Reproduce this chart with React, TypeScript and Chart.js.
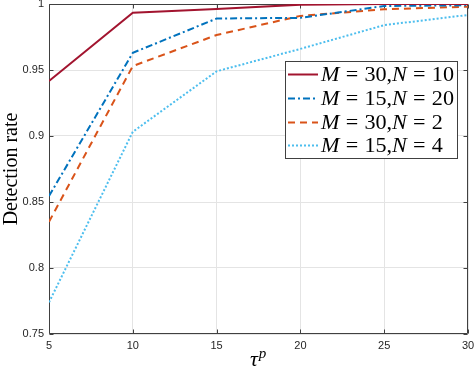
import React, { useEffect, useRef } from "react";
import { Chart, registerables } from "chart.js";

Chart.register(...registerables);

// ---- data ----
const tauValues = [5, 10, 15, 20, 25, 30];
const rateM30N10 = [0.9417, 0.9934, 0.9962, 0.9995, 1.0, 1.0];
const rateM15N20 = [0.8545, 0.963, 0.989, 0.9895, 0.9985, 0.999];
const rateM30N2 = [0.835, 0.953, 0.9765, 0.991, 0.996, 0.998];
const rateM15N4 = [0.774, 0.9032, 0.949, 0.966, 0.984, 0.9917];
const seriesLabels = ["M = 30,N = 10", "M = 15,N = 20", "M = 30,N = 2", "M = 15,N = 4"];
const xTickValues = [5, 10, 15, 20, 25, 30];
const yTickValues = [0.75, 0.8, 0.85, 0.9, 0.95, 1];
const yAxisTitle = "Detection rate";
const xAxisTitle = "τ";
const xAxisSuperscript = "p";

const AXIS_COLOR = "#404040";
const TICK_FONT = "11px 'Liberation Sans', Arial, sans-serif";
const SERIF = "'Liberation Serif', 'Times New Roman', serif";

const tokenize = (label: string) => label.match(/[A-Za-z]|=|[^A-Za-z=\s]+/g) || [];

const mathWidth = (ctx: CanvasRenderingContext2D, label: string, size: number) => {
  const gap = size * 0.28;
  let w = 0;
  for (const t of tokenize(label)) {
    if (t === "=") {
      ctx.font = `${size}px ${SERIF}`;
      w += gap * 2 + ctx.measureText(t).width;
    } else if (/^[A-Za-z]$/.test(t)) {
      ctx.font = `italic ${size}px ${SERIF}`;
      w += ctx.measureText(t).width;
    } else {
      ctx.font = `${size}px ${SERIF}`;
      w += ctx.measureText(t).width;
    }
  }
  return w;
};

const drawMath = (ctx: CanvasRenderingContext2D, label: string, x: number, y: number, size: number, sx: number) => {
  const gap = size * 0.28;
  ctx.save();
  ctx.translate(x, y);
  ctx.scale(sx, 1);
  ctx.fillStyle = "#000";
  ctx.textBaseline = "alphabetic";
  ctx.textAlign = "left";
  let cx = 0;
  for (const t of tokenize(label)) {
    if (t === "=") {
      ctx.font = `${size}px ${SERIF}`;
      cx += gap;
      ctx.fillText(t, cx, 0);
      cx += ctx.measureText(t).width + gap;
    } else if (/^[A-Za-z]$/.test(t)) {
      ctx.font = `italic ${size}px ${SERIF}`;
      ctx.fillText(t, cx, 0);
      cx += ctx.measureText(t).width;
    } else {
      ctx.font = `${size}px ${SERIF}`;
      ctx.fillText(t, cx, 0);
      cx += ctx.measureText(t).width;
    }
  }
  ctx.restore();
};

const framePlugin = {
  id: "matlabFrame",
  beforeDatasetsDraw(chart: any) {
    const { ctx, chartArea: a, scales } = chart;
    ctx.save();
    ctx.strokeStyle = AXIS_COLOR;
    ctx.lineWidth = 1;
    ctx.beginPath();
    const L = Math.round(a.left) + 0.5;
    const R = Math.round(a.right) - 0.5;
    const T = Math.round(a.top) + 0.5;
    const B = Math.round(a.bottom) - 0.5;
    ctx.rect(L, T, R - L, B - T);
    const tl = 4;
    for (const v of xTickValues) {
      const px = Math.round(scales.x.getPixelForValue(v)) + 0.5;
      ctx.moveTo(px, B);
      ctx.lineTo(px, B - tl);
      ctx.moveTo(px, T);
      ctx.lineTo(px, T + tl);
    }
    for (const v of yTickValues) {
      const py = Math.round(scales.y.getPixelForValue(v)) + 0.5;
      ctx.moveTo(L, py);
      ctx.lineTo(L + tl, py);
      ctx.moveTo(R, py);
      ctx.lineTo(R - tl, py);
    }
    ctx.stroke();
    ctx.restore();
  },
  afterDraw(chart: any) {
    const { ctx } = chart;
    ctx.save();
    // y axis title
    ctx.translate(12, 169);
    ctx.rotate(-Math.PI / 2);
    ctx.font = `20px ${SERIF}`;
    ctx.fillStyle = "#000";
    ctx.textAlign = "center";
    ctx.textBaseline = "middle";
    ctx.fillText(yAxisTitle, 0, 0);
    ctx.restore();

    // x axis title with superscript
    ctx.save();
    ctx.fillStyle = "#000";
    ctx.textAlign = "left";
    ctx.textBaseline = "alphabetic";
    ctx.font = `italic 22px ${SERIF}`;
    ctx.fillText(xAxisTitle, 250, 366);
    const tw = ctx.measureText(xAxisTitle).width;
    ctx.font = `italic 15px ${SERIF}`;
    ctx.fillText(xAxisSuperscript, 250 + tw + 1, 358);
    ctx.restore();

    // legend
    const box = { x: 285, y: 61, w: 173, h: 98 };
    ctx.save();
    ctx.fillStyle = "#fff";
    ctx.fillRect(box.x, box.y, box.w, box.h);
    ctx.strokeStyle = AXIS_COLOR;
    ctx.lineWidth = 1;
    ctx.strokeRect(box.x + 0.5, box.y + 0.5, box.w - 1, box.h - 1);
    const size = 20;
    const sx = 133 / mathWidth(ctx, chart.data.datasets[0].label, size);
    const baselines = [81, 105, 129, 152];
    chart.data.datasets.forEach((ds: any, i: number) => {
      const yb = baselines[i];
      const ym = yb - 6.5;
      ctx.save();
      ctx.strokeStyle = ds.borderColor;
      ctx.lineWidth = ds.borderWidth;
      ctx.setLineDash(ds.borderDash || []);
      ctx.beginPath();
      ctx.moveTo(288, ym);
      ctx.lineTo(318, ym);
      ctx.stroke();
      ctx.restore();
      drawMath(ctx, ds.label, 321, yb, size, sx);
    });
    ctx.restore();
  },
};

export default function App() {
  const canvasRef = useRef<HTMLCanvasElement | null>(null);

  useEffect(() => {
    if (!canvasRef.current) return;
    const fixY = (s: any) => {
      s.width = 49;
      s.paddingTop = 0;
      s.paddingBottom = 0;
      s.paddingLeft = 0;
      s.paddingRight = 0;
    };
    const fixX = (s: any) => {
      s.height = 35;
      s.paddingTop = 0;
      s.paddingBottom = 0;
      s.paddingLeft = 0;
      s.paddingRight = 0;
    };
    const chart = new Chart(canvasRef.current, {
      type: "line",
      data: {
        labels: tauValues,
        datasets: [
          {
            label: seriesLabels[0],
            data: tauValues.map((x, i) => ({ x, y: rateM30N10[i] })),
            borderColor: "#A2142F",
            borderWidth: 2,
            borderDash: [],
          },
          {
            label: seriesLabels[1],
            data: tauValues.map((x, i) => ({ x, y: rateM15N20[i] })),
            borderColor: "#0072BD",
            borderWidth: 2,
            borderDash: [7, 3, 2, 3],
          },
          {
            label: seriesLabels[2],
            data: tauValues.map((x, i) => ({ x, y: rateM30N2[i] })),
            borderColor: "#D95319",
            borderWidth: 2,
            borderDash: [7, 5],
          },
          {
            label: seriesLabels[3],
            data: tauValues.map((x, i) => ({ x, y: rateM15N4[i] })),
            borderColor: "#4DBEEE",
            borderWidth: 2,
            borderDash: [2, 2],
          },
        ] as any,
      },
      options: {
        responsive: false,
        animation: false,
        layout: { padding: { top: 4, right: 6, left: 0, bottom: 0 } },
        elements: { point: { radius: 0 }, line: { tension: 0, fill: false } },
        plugins: { legend: { display: false }, tooltip: { enabled: false } },
        scales: {
          x: {
            type: "linear",
            min: 5,
            max: 30,
            afterFit: fixX,
            afterBuildTicks: (s: any) => {
              s.ticks = xTickValues.map((v) => ({ value: v }));
            },
            ticks: {
              font: { family: "'Liberation Sans', Arial, sans-serif", size: 11 },
              color: "#262626",
              padding: 5,
              maxRotation: 0,
              autoSkip: false,
              callback: (v: any) => String(v),
            },
            grid: { color: "#e4e4e4", drawTicks: false },
            border: { display: false },
          },
          y: {
            type: "linear",
            min: 0.75,
            max: 1,
            afterFit: fixY,
            afterBuildTicks: (s: any) => {
              s.ticks = yTickValues.map((v) => ({ value: v }));
            },
            ticks: {
              font: { family: "'Liberation Sans', Arial, sans-serif", size: 11 },
              color: "#262626",
              padding: 5,
              autoSkip: false,
              callback: (v: any) => String(Number(Number(v).toFixed(2))),
            },
            grid: { color: "#e4e4e4", drawTicks: false },
            border: { display: false },
          },
        },
      },
      plugins: [framePlugin],
    } as any);
    return () => chart.destroy();
  }, []);

  return (
    <div style={{ position: "absolute", left: 0, top: 0, width: 474, height: 369, background: "#fff" }}>
      <canvas ref={canvasRef} width={474} height={369} style={{ display: "block" }} />
    </div>
  );
}
